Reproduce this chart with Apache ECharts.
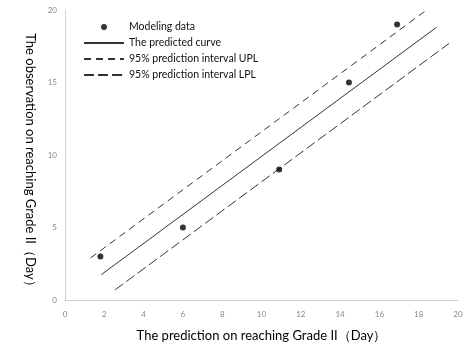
<!DOCTYPE html>
<html><head><meta charset="utf-8">
<script src="https://cdn.jsdelivr.net/npm/echarts@6/dist/echarts.min.js"></script>
<style>html,body{margin:0;padding:0;background:#fff}#c{width:474px;height:362px}</style>
</head><body><div id="c"></div>
<script>
var seriesNames = ['Modeling data','The predicted curve','95% prediction interval UPL','95% prediction interval LPL'];
var obsX = [1.8, 6.0, 10.9, 14.45, 16.9];
var obsY = [3, 5, 9, 15, 19];
var predX = [1.85, 18.9];
var predY = [1.75, 18.8];
var uplX = [1.3, 18.3];
var uplY = [2.9, 19.9];
var lplX = [2.55, 19.55];
var lplY = [0.7, 17.7];
var xTicks = [0,2,4,6,8,10,12,14,16,18,20];
var yTicks = [0,5,10,15,20];
var xTitle = 'The prediction on reaching Grade II（Day）';
var yTitle = 'The observation on reaching Grade II（Day）';

function pairs(xs, ys){ return xs.map(function(x,i){return [x, ys[i]];}); }

var chart = echarts.init(document.getElementById('c'), null, {renderer:'canvas'});
var font = 'Lato, "Open Sans", sans-serif';
var hideSym = {opacity:0};
chart.setOption({
  animation:false,
  backgroundColor:'#fff',
  grid:{left:65, right:16, top:10, bottom:62},
  legend:{
    orient:'vertical', left:78, top:16, itemGap:4, itemWidth:40, itemHeight:6,
    textStyle:{fontFamily:font, fontSize:10.5, color:'#111', lineHeight:12},
    data:[
      {name:seriesNames[0], icon:'circle', itemStyle:{color:'#000'}},
      {name:seriesNames[1], itemStyle:hideSym},
      {name:seriesNames[2], itemStyle:hideSym},
      {name:seriesNames[3], itemStyle:hideSym}
    ]
  },
  xAxis:{
    type:'value', min:xTicks[0], max:xTicks[xTicks.length-1], interval:2,
    name:xTitle, nameLocation:'middle', nameGap:29,
    nameTextStyle:{fontFamily:font, fontSize:13, color:'#000'},
    axisLine:{lineStyle:{color:'#d0d0d0'}}, axisTick:{show:false},
    axisLabel:{fontFamily:font, fontSize:8, color:'#888', margin:10},
    splitLine:{show:false}
  },
  yAxis:{
    type:'value', min:yTicks[0], max:yTicks[yTicks.length-1], interval:5,
    axisLine:{show:true, lineStyle:{color:'#d0d0d0'}}, axisTick:{show:false},
    axisLabel:{fontFamily:font, fontSize:8, color:'#888', margin:8},
    splitLine:{show:false}
  },
  graphic:[{
    type:'text', x:30, y:163, rotation:-Math.PI/2,
    style:{text:yTitle, font:'13px '+font, fill:'#000', textAlign:'center', textVerticalAlign:'middle'}
  }],
  series:[
    {name:seriesNames[0], type:'scatter', data:pairs(obsX,obsY), symbolSize:6, itemStyle:{color:'#000'}, z:5},
    {name:seriesNames[1], type:'line', data:pairs(predX,predY), symbol:'none', lineStyle:{color:'#333', width:1}, itemStyle:{color:'#333'}},
    {name:seriesNames[2], type:'line', data:pairs(uplX,uplY), symbol:'none', lineStyle:{color:'#333', width:1, type:[7,5]}, itemStyle:{color:'#333'}},
    {name:seriesNames[3], type:'line', data:pairs(lplX,lplY), symbol:'none', lineStyle:{color:'#333', width:1, type:[10,4]}, itemStyle:{color:'#333'}}
  ]
});
</script></body></html>
